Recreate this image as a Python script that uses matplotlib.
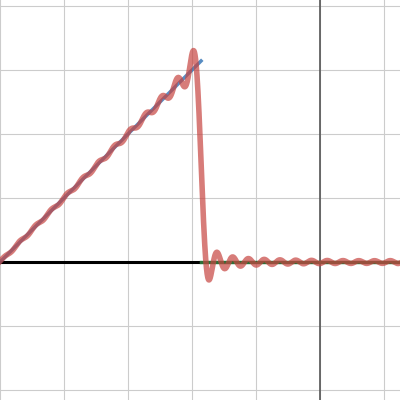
import numpy as np
import matplotlib.pyplot as plt

# view window (graph units)
x_min, x_max = -5.0, 1.25
y_min, y_max = -2.156, 4.094
shift = 5.0          # function lives on t = x + shift, t in [0, 2*pi]
n_terms = 25         # Fourier partial sum order

def partial_sum(t, n):
    s = np.full_like(t, np.pi / 4)
    for k in range(1, n + 1):
        s += ((-1) ** k - 1) / (np.pi * k ** 2) * np.cos(k * t)
        s -= (-1) ** k / k * np.sin(k * t)
    return s

fig = plt.figure(figsize=(4, 4), dpi=100)
ax = fig.add_axes([0, 0, 1, 1])
ax.set_xlim(x_min, x_max)
ax.set_ylim(y_min, y_max)

for gx in np.arange(-5, 2):
    ax.axvline(gx, color="#cccccc", lw=0.8, zorder=0)
for gy in np.arange(-2, 5):
    ax.axhline(gy, color="#cccccc", lw=0.8, zorder=0)
ax.axvline(0, color="#555555", lw=1.2, zorder=1)
ax.axhline(0, color="black", lw=2.2, zorder=1)

# piecewise target function
xb = np.linspace(-shift, -shift + np.pi, 200)
ax.plot(xb, xb + shift, color="#2d70b3", lw=2.5, alpha=0.8, zorder=2)
xg = np.linspace(-shift + np.pi, x_max, 200)
ax.plot(xg, np.zeros_like(xg), color="#388c46", lw=2.5, alpha=0.8, zorder=2)

# Fourier approximation
xr = np.linspace(x_min, x_max, 3000)
ax.plot(xr, partial_sum(xr + shift, n_terms), color="#c74440", lw=4, alpha=0.7, zorder=3)

ax.set_xticks([])
ax.set_yticks([])
for s in ax.spines.values():
    s.set_visible(False)

fig.savefig("out.png", dpi=100)
